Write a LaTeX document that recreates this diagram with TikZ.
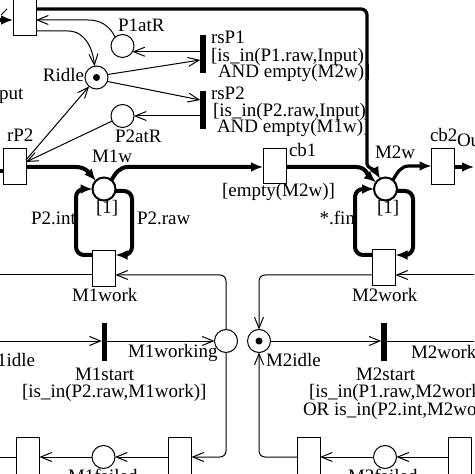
\documentclass[tikz,border=0pt]{standalone}
\usepackage{fontspec}
\setmainfont{Liberation Serif}
\usetikzlibrary{arrows.meta,calc}
\begin{document}
\begin{tikzpicture}[x=0.5pt,y=-0.5pt,
  every node/.style={font=\fontsize{9.5pt}{10pt}\selectfont, inner sep=0pt, outer sep=0pt},
  lbl/.style={anchor=base west},
  lble/.style={anchor=base east},
  tbox/.style={draw, line width=0.5pt, fill=white, minimum width=11.5pt, minimum height=18pt},
  place/.style={draw, circle, line width=0.5pt, fill=white, minimum size=11.5pt},
  bar/.style={fill=black, minimum width=2.75pt, minimum height=19pt},
  tok/.style={fill=black, circle, minimum size=3.5pt},
  thin/.style={line width=0.5pt},
  tarr/.style={line width=0.5pt, -{Straight Barb[length=5.5pt,width=4.5pt,line width=0.5pt]}},
  karr/.style={line width=2pt, -{Latex[length=6pt,width=5pt]}},
  marr/.style={line width=1.6pt, -{Latex[length=6pt,width=5pt]}},
]
\useasboundingbox (0,0) rectangle (474,474);
\clip (0,0) rectangle (474,474);

% transitions (boxes)
\node[tbox, minimum height=18.5pt] (rP1) at (24.5,17.5) {};
\node[tbox] (rP2) at (14.5,167) {};
\node[tbox, minimum height=17.5pt] (cb1) at (274.5,166) {};
\node[tbox] (cb2) at (443,167) {};
\node[tbox] (M1work) at (104,268.5) {};
\node[tbox] (M2work) at (384,268) {};
\node[tbox, minimum height=20pt] (M1rep) at (28,457) {};
\node[tbox, minimum height=20pt] (M1fail) at (180,457) {};
\node[tbox, minimum height=20pt] (M2rep) at (308.5,457) {};
\node[tbox, minimum height=20pt] (M2fail) at (459.5,457) {};

% bars
\node[bar] (rsP1) at (203,54.5) {};
\node[bar] (rsP2) at (203,110) {};
\node[bar] (M1start) at (104.5,342) {};
\node[bar] (M2start) at (384,342) {};

% places
\node[place] (P1atR) at (122.5,46) {};
\node[place] (P2atR) at (122.5,116) {};
\node[place] (Ridle) at (96.5,77.5) {};
\node[tok] (RidleTok) at (Ridle) {};
\node[place] (M1w) at (104,189) {};
\node[place] (M2w) at (385.5,189) {};
\node[place] (M1working) at (226,341) {};
\node[place] (M2idle) at (259,341) {};
\node[tok] (M2idleTok) at (M2idle) {};
\node[place] (M1failed) at (103.5,457) {};
\node[place] (M2failed) at (385,457) {};

% free ends
\coordinate (inL) at (-10,20);
\coordinate (outR) at (474,167);
\coordinate (w1L) at (-10,275);
\coordinate (s1L) at (-10,341);
\coordinate (r1L) at (-10,457);
\coordinate (w2R) at (484,275);
\coordinate (s2R) at (484,341);
\coordinate (rP2L) at (-10,171);
\coordinate (tlA) at (1,15);
\coordinate (tlB) at (7,9);

% thin arcs
\draw[thin] (tlA) -- (tlB);
\draw[tarr] (P1atR.130) to[out=115,in=0] (88,20) -- ($(rP1.west)+(23,2.5)$);
\draw[tarr] ($(rP1.east)+(0,13.5)$) -- (68,31) to[out=0,in=95] (Ridle.100);
\draw[tarr] (Ridle.15) -- ($(rsP1.west)+(0,5.5)$);
\draw[tarr] (Ridle.-20) -- ($(rsP2.west)+(0,-10)$);
\draw[tarr] (rsP1.west |- P1atR.-30) -- (P1atR.-30);
\draw[tarr] (rsP2.west |- P2atR.east) -- (P2atR.east);
\draw[tarr] ($(rP2.north east)+(0,11)$) -- (Ridle.230);
\draw[tarr] (P2atR.206) -- ($(rP2.north east)+(0,13)$);

\draw[tarr, rounded corners=3pt] (M1working.north) |- ($(M1work.east)+(0,6.5)$);
\draw[thin] ($(M1work.west)+(0,6.5)$) -- (w1L);
\draw[tarr] (s1L) -- (M1start.west |- M1working.west);
\draw[tarr] (M1start.east |- M1working.west) -- (M1working.west);
\draw[tarr, rounded corners=3pt] (M1working.south) |- (M1fail.east);
\draw[tarr] (M1fail.west) -- (M1failed.east);
\draw[tarr] (M1failed.west) -- (M1rep.east);
\draw[thin] (M1rep.west) -- (r1L);

\draw[tarr] (w2R) -- ($(M2work.east)+(0,7)$);
\draw[tarr, rounded corners=3pt] ($(M2work.west)+(0,7)$) -| (M2idle.north);
\draw[tarr] (M2idle.east) -- (M2start.west |- M2idle.east);
\draw[thin] (M2start.east |- M2idle.east) -- (s2R);
\draw[tarr] (M2fail.west) -- (M2failed.east);
\draw[tarr] (M2failed.west) -- (M2rep.east);
\draw[tarr, rounded corners=3pt] (M2rep.west) -| (M2idle.south);

% thick arcs
\draw[karr] (inL) -- ($(rP1.west)+(0,2.5)$);
\draw[line width=2pt] (rP2L) -- ($(rP2.west)+(0,4)$);
\draw[marr, rounded corners=3pt] ($(rP1.east)+(0,-8.5)$) -- (367,9) -- (367,158) to[out=-90,in=120] (M2w.118);
\draw[karr] (rP2.east) -- (76,167) to[out=0,in=130] (M1w.135);
\draw[karr] (M1w.50) to[out=60,in=180] (128,167) -- (cb1.west |- rP2.east);
\draw[karr] (cb1.east |- rP2.east) -- (356,167) to[out=0,in=140] (M2w.145);
\draw[marr] (M2w.50) to[out=60,in=180] (409,166) -- (cb2.west |- 0,166);
\draw[karr] (cb2.east) -- (outR);

\draw[karr, rounded corners=4pt] (M1w.-10) -- (132,191) -- (132,255) -- ($(M1work.east)+(0,-13.5)$);
\draw[karr, rounded corners=4pt] ($(M1work.west)+(0,-13.5)$) -- (76,255) -- (76,189) -- (M1w.west);
\draw[karr, rounded corners=4pt] (M2w.-10) -- (413,191) -- (413,255) -- ($(M2work.east)+(0,-13)$);
\draw[karr, rounded corners=4pt] ($(M2work.west)+(0,-13)$) -- (355,255) -- (355,189) -- (M2w.west);

% redraw the two buffer places on top, with heavier outline
\node[place, line width=1pt] (M1wTop) at (M1w) {};
\node[place, line width=1pt] (M2wTop) at (M2w) {};

% labels
\node[lbl] (tP1atR) at (118,32) {P1atR};
\node[lbl] (tP2atR) at (115,143) {P2atR};
\node[lble] (tRidle) at (84,82) {Ridle};
\node[lble] (tInput) at (23.5,100) {Input};
\node[lbl] (trsP1a) at (211,44) {rsP1};
\node[lbl] (trsP1b) at (211,61.5) {[is\_in(P1.raw,Input)};
\node[lbl] (trsP1c) at (218,78) {AND empty(M2w)]};
\node[lbl] (trsP2a) at (211,100) {rsP2};
\node[lbl] (trsP2b) at (213,117) {[is\_in(P2.raw,Input)};
\node[lbl] (trsP2c) at (217,133) {AND empty(M1w)]};
\node[lbl] (trP2) at (7,142) {rP2};
\node[lbl] (tM1w) at (92,163) {M1w};
\node[lbl] (tM1one) at (96,214) {[1]};
\node[lble] (tP2int) at (76,225) {P2.int};
\node[lbl] (tP2raw) at (137,225) {P2.raw};
\node[lbl] (tcb1) at (289,157) {cb1};
\node[lbl] (tempty) at (222,197) {[empty(M2w)]};
\node[lbl] (tM2w) at (375,159) {M2w};
\node[lbl] (tM2one) at (377,214) {[1]};
\node[lble] (tfin) at (355,225) {*.fin};
\node[lbl] (tcb2) at (430,142) {cb2};
\node[lbl] (tOut) at (457,147) {Output};
\node[lbl] (tM1work) at (72,301) {M1work};
\node[lbl] (tM2work) at (352,301) {M2work};
\node[lbl] (tM1working) at (128,357) {M1working};
\node[lble] (tM1idle) at (35,366) {M1idle};
\node[lbl] (tM1start) at (75,380) {M1start};
\node[lbl] (tM1guard) at (22,397) {[is\_in(P2.raw,M1work)]};
\node[lbl] (tM2idle) at (266,366) {M2idle};
\node[lbl] (tM2start) at (356,380) {M2start};
\node[lbl] (tM2guarda) at (309,397) {[is\_in(P1.raw,M2work)};
\node[lbl] (tM2guardb) at (303,415) {OR is\_in(P2.int,M2work)]};
\node[lbl] (tM2working) at (411,358) {M2working};
\node[lbl] (tM1failed) at (68,482) {M1failed};
\node[lbl] (tM2failed) at (348,482) {M2failed};
\end{tikzpicture}
\end{document}
